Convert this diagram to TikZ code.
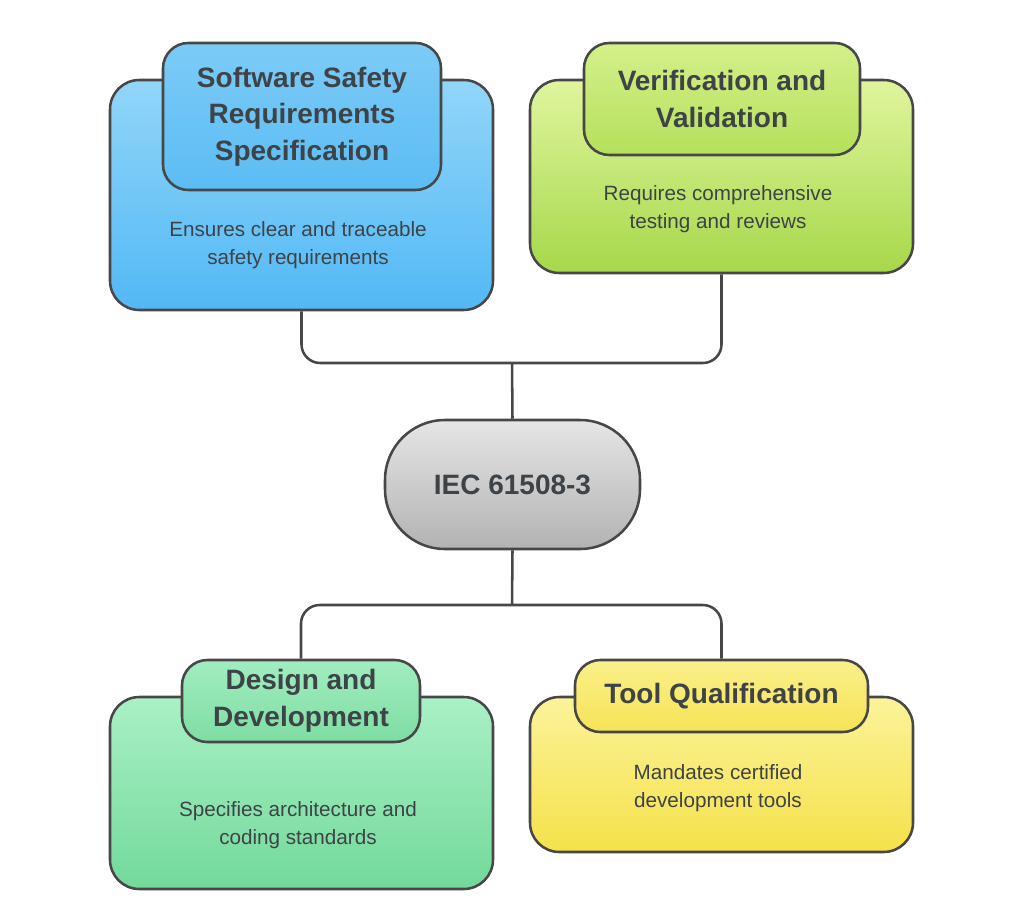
\documentclass[tikz,border=0pt]{standalone}
\usepackage{fontspec}
\setmainfont{Liberation Sans}
\usetikzlibrary{backgrounds}
\definecolor{bA}{HTML}{92D6F8}\definecolor{bB}{HTML}{52B8F5}
\definecolor{btA}{HTML}{7CCBF6}\definecolor{btB}{HTML}{5BBCF4}
\definecolor{gA}{HTML}{E0F59E}\definecolor{gB}{HTML}{A6D84A}
\definecolor{gtA}{HTML}{D4F08A}\definecolor{gtB}{HTML}{B5E05C}
\definecolor{mA}{HTML}{AAF0C6}\definecolor{mB}{HTML}{72D99A}
\definecolor{mtA}{HTML}{A2EDC0}\definecolor{mtB}{HTML}{7EDDA3}
\definecolor{yA}{HTML}{FBF39A}\definecolor{yB}{HTML}{F5E14A}
\definecolor{ytA}{HTML}{FAF08A}\definecolor{ytB}{HTML}{F6E356}
\definecolor{tx}{HTML}{3E4347}
\begin{document}
\begin{tikzpicture}[x=0.75pt,y=-0.75pt,
  bx/.style={draw=black!72,line width=1.9pt,rounded corners=22pt,inner sep=0pt},
  tt/.style={draw=black!72,line width=1.9pt,rounded corners=19pt,inner sep=0pt,align=center,font=\bfseries\fontsize{21}{27.5}\selectfont,text=tx},
  bd/.style={align=center,font=\fontsize{15.5}{21}\selectfont,text=tx},
  ln/.style={draw=black!72,line width=1.9pt,rounded corners=14pt}]
\useasboundingbox (0,0) rectangle (1024,922);
\node[bx,minimum width=287.25pt,minimum height=172.5pt,top color=bA,bottom color=bB] (b1) at (301.5,195) {};
\node[bx,minimum width=287.25pt,minimum height=144.75pt,top color=gA,bottom color=gB] (b2) at (721.5,176.5) {};
\node[bx,minimum width=287.25pt,minimum height=144pt,top color=mA,bottom color=mB] (b3) at (301.5,793) {};
\node[bx,minimum width=287.25pt,minimum height=116.25pt,top color=yA,bottom color=yB] (b4) at (721.5,774.5) {};
\node[tt,minimum width=208.5pt,minimum height=110.25pt,top color=btA,bottom color=btB] (t1) at (302,116.5) {Software Safety\\Requirements\\Specification};
\node[tt,minimum width=207pt,minimum height=84pt,top color=gtA,bottom color=gtB] (t2) at (722,99) {Verification and\\Validation};
\node[tt,minimum width=178.5pt,minimum height=61.5pt,top color=mtA,bottom color=mtB] (t3) at (301,701) {Design and\\Development};
\node[tt,minimum width=219.75pt,minimum height=54pt,top color=ytA,bottom color=ytB] (t4) at (721.5,696) {Tool Qualification};
\node[bd] (d1) at (298,245) {Ensures clear and traceable\\safety requirements};
\node[bd] (d2) at (718,209) {Requires comprehensive\\testing and reviews};
\node[bd] (d3) at (298,825) {Specifies architecture and\\coding standards};
\node[bd] (d4) at (718,788) {Mandates certified\\development tools};
\node[draw=black!72,line width=1.9pt,rounded corners=45pt,minimum width=191.25pt,minimum height=96.75pt,top color=black!10,bottom color=black!30,font=\bfseries\fontsize{21}{24}\selectfont,text=tx] (c) at (512.5,484.5) {IEC 61508-3};
\coordinate (j1) at (512,363);
\coordinate (j2) at (512,605);
\draw[ln] (b1.south) |- (j1) -| (b2.south);
\draw[ln] (j1) -- (c.north);
\draw[ln] (c.south) -- (j2);
\draw[ln] (t3.north) |- (j2) -| (t4.north);
\end{tikzpicture}
\end{document}
